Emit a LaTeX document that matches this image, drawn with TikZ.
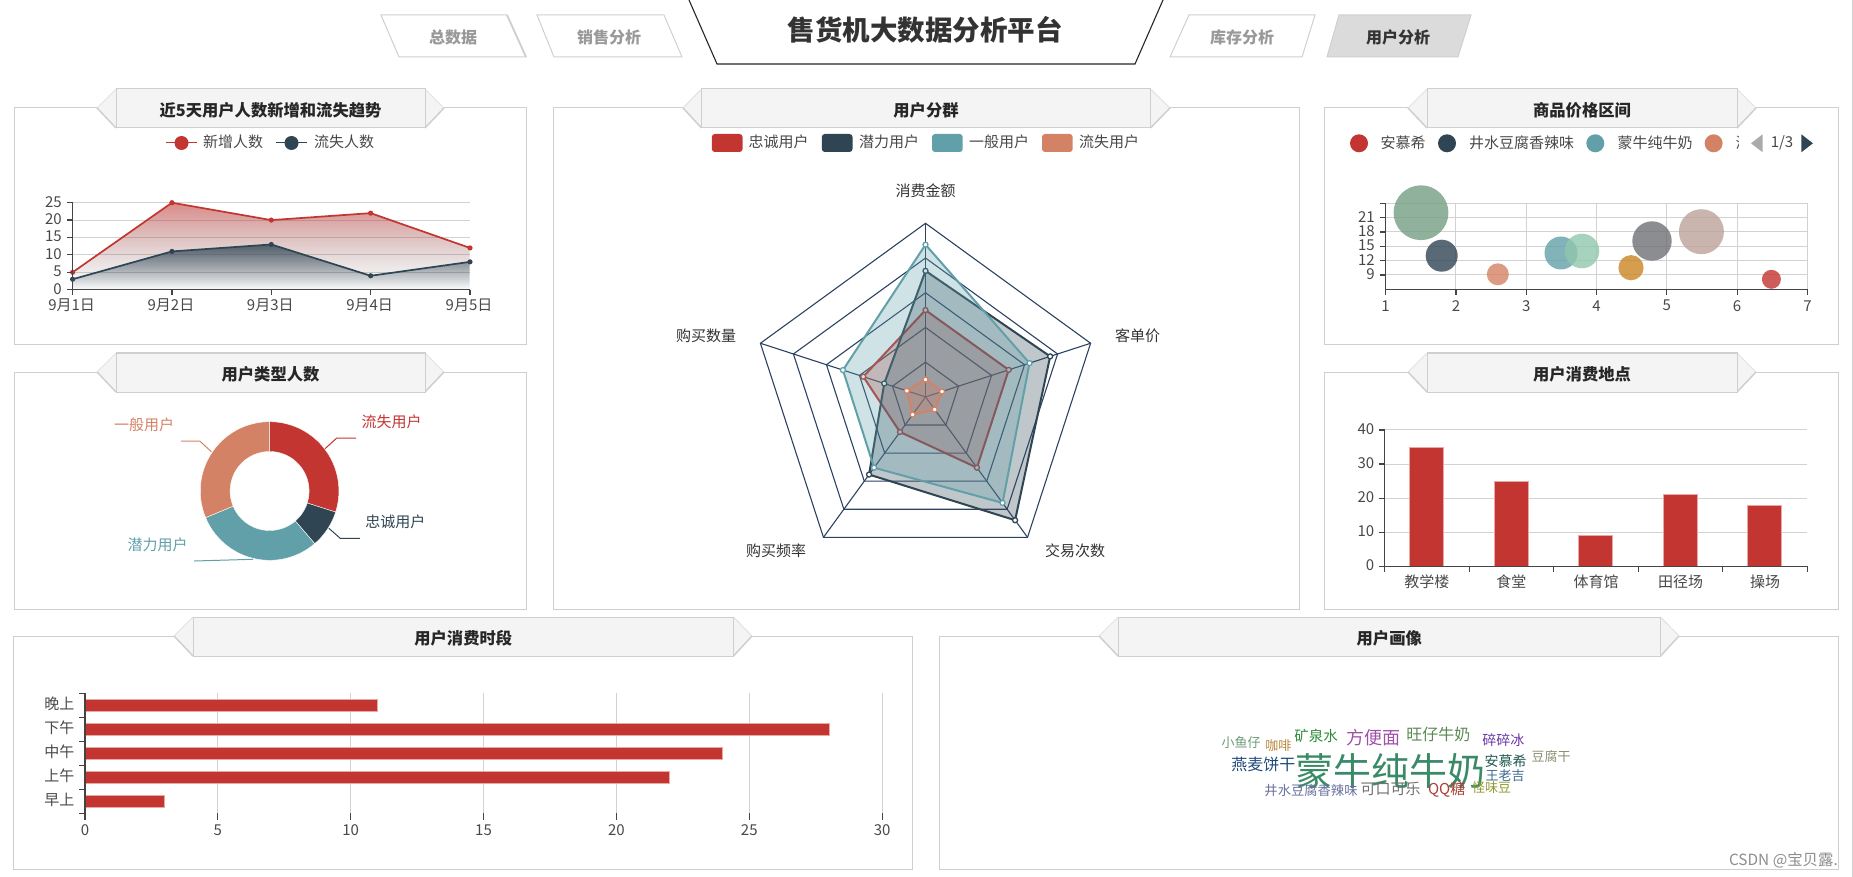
\documentclass[tikz,border=0pt]{standalone}
\usepackage{fontspec}
\setmainfont{Noto Sans CJK SC}
\usetikzlibrary{calc, fadings}
\definecolor{cred}{HTML}{C23531}
\definecolor{cdark}{HTML}{2F4554}
\definecolor{cteal}{HTML}{61A0A8}
\definecolor{corange}{HTML}{D48265}
\definecolor{cgreen}{HTML}{749F83}
\definecolor{cmint}{HTML}{91C7AE}
\definecolor{cgold}{HTML}{CA8622}
\definecolor{cgrey}{HTML}{6E7074}
\definecolor{cbrown}{HTML}{BDA29A}
\definecolor{edge}{HTML}{CFCFCF}
\definecolor{headfill}{HTML}{F4F4F4}
\definecolor{gridc}{HTML}{D2D2D2}
\definecolor{axisc}{HTML}{444444}
\definecolor{txtc}{HTML}{484848}
\definecolor{barline}{HTML}{E8A8A6}
\definecolor{radarc}{HTML}{2C4263}
\tikzset{
    panel/.style={draw=edge, line width=1},
    headbox/.style={draw=edge, fill=headfill, line width=1},
    tabbox/.style={draw=edge, line width=1},
    gridline/.style={draw=gridc, line width=1},
    axisline/.style={draw=axisc, line width=1.2},
    lbl/.style={font=\fontsize{15}{18}\selectfont, text=txtc, inner sep=0pt},
    headlbl/.style={font=\fontsize{16.3}{18}\selectfont\bfseries, text=black!85, inner sep=0pt},
    tablbl/.style={font=\fontsize{16}{18}\selectfont\bfseries, inner sep=0pt},
    barfill/.style={fill=cred, draw=barline, line width=0.8},
    cloud/.style={inner sep=0pt, font=\fontsize{#1}{#1}\selectfont},
}
\begin{document}
\begin{tikzpicture}[x=1pt, y=-1pt]
    \useasboundingbox (0,0) rectangle (1853,877);
    \draw[edge, line width=1] (1852,0) -- (1852,877);

    \foreach \a/\b/\c/\d/\tx/\col/\lab/\nm in {
        381/507/526/399/453/black!40/总数据/tabsum,
        537/664/682/554/609/black!40/销售分析/tabsale,
        1189/1315/1302/1170/1242/black!40/库存分析/tabstock}{
        \draw[tabbox] (\a,15) -- (\b,15) -- (\c,57) -- (\d,57) -- cycle;
        \node[tablbl, text=\col] (\nm) at (\tx,37) {\lab};
    }
    \draw[tabbox, line width=1.8] (507,15) -- (526,57);
    \draw[tabbox, fill=black!14] (1339,15) -- (1471,15) -- (1458,57) -- (1327,57) -- cycle;
    \node[tablbl, text=black!80] (tabuser) at (1398,37) {用户分析};

    \draw[black!85, line width=1.1] (689,0) -- (717,64) -- (1135,64) -- (1163,0);
    \node[inner sep=0pt, text=black!80, font=\fontsize{27.5}{30}\selectfont\bfseries] (maintitle) at (925,30) {售货机大数据分析平台};

    \foreach \pl/\pr/\pty/\pby/\hl/\hr/\tl/\tr/\ttl/\nm in {
        14/526/108/345/116/425/97/444/近5天用户人数新增和流失趋势/headtrend,
        14/526/372/609/116/425/97/444/用户类型人数/headtype,
        553.5/1299/108/609/701.5/1150.5/683/1170/用户分群/headgroup,
        1324.5/1838.5/108/345/1427/1737/1408/1756/商品价格区间/headprice,
        1324.5/1838.5/372/609/1427/1737/1408/1756/用户消费地点/headplace,
        13.5/912/636/869/193/733.5/174/752/用户消费时段/headtime,
        939.5/1838.5/636/869/1118/1660.5/1099/1679/用户画像/headcloud}{
        \draw[panel] (\tl,\pty) -- (\pl,\pty) -- (\pl,\pby) -- (\pr,\pby) -- (\pr,\pty) -- (\tr,\pty);
        \fill[headfill] (\hl,{\pty-19}) -- (\tl,\pty) -- (\hl,{\pty+20}) -- cycle;
        \fill[headfill] (\hr,{\pty-19}) -- (\tr,\pty) -- (\hr,{\pty+20}) -- cycle;
        \draw[edge!60, line width=1] (\hl,{\pty-19}) -- (\tl,\pty);
        \draw[edge!60, line width=1] (\hr,{\pty-19}) -- (\tr,\pty);
        \draw[edge, line width=1.5] (\tl,\pty) -- (\hl,{\pty+20});
        \draw[edge, line width=1.5] (\tr,\pty) -- (\hr,{\pty+20});
        \draw[headbox] (\hl,{\pty-19}) rectangle (\hr,{\pty+20});
        \node[headlbl] (\nm) at ({(\hl+\hr)/2},{\pty+2}) {\ttl};
    }

    \coordinate (trendA) at (166,143);
    \coordinate (trendB) at (197,143);
    \coordinate (trendC) at (276,143);
    \coordinate (trendD) at (307,143);
    \draw[cred, line width=1] (trendA) -- (trendB);
    \fill[cred] ($(trendA)!0.5!(trendB)$) circle (7);
    \node[lbl] (trendnew) at (233,142) {新增人数};
    \draw[cdark, line width=1] (trendC) -- (trendD);
    \fill[cdark] ($(trendC)!0.5!(trendD)$) circle (7);
    \node[lbl] (trendlost) at (344,142) {流失人数};

    \foreach \v in {5,10,...,25}
        \draw[gridline] (72.6,{289.7-3.48*\v}) -- (470,{289.7-3.48*\v});
    \foreach \i/\a/\b/\lab in {0/5/3/9月1日,1/25/11/9月2日,2/20/13/9月3日,3/22/4/9月4日,4/12/8/9月5日}{
        \coordinate (new\i) at ({72.6+99.35*\i},{289.7-3.48*\a});
        \coordinate (lost\i) at ({72.6+99.35*\i},{289.7-3.48*\b});
        \draw[axisline] ({72.6+99.35*\i},289.7) -- ({72.6+99.35*\i},295);
        \node[lbl] (day\i) at ({71.6+99.35*\i},305) {\lab};
    }
    \coordinate (trendO) at (72.6,289.7);
    \coordinate (trendE) at (470,289.7);
    \shade[top color=cred, bottom color=black!55, opacity=0.58, path fading=south] (new0) -- (new1) -- (new2) -- (new3) -- (new4) -- (trendE) -- (trendO) -- cycle;
    \fill[cdark, fill opacity=0.8, path fading=south] (lost0) -- (lost1) -- (lost2) -- (lost3) -- (lost4) -- (trendE) -- (trendO) -- cycle;
    \draw[cred, line width=1.7] (new0) -- (new1) -- (new2) -- (new3) -- (new4);
    \draw[cdark, line width=1.7] (lost0) -- (lost1) -- (lost2) -- (lost3) -- (lost4);
    \foreach \i in {0,...,4}{
        \fill[cred] (new\i) circle (2.6);
        \fill[cdark] (lost\i) circle (2.6);
    }
    \draw[axisline] (72.6,202.7) -- (72.6,295);
    \draw[axisline] (72.6,289.7) -- (470,289.7);
    \foreach \v in {0,5,...,25}{
        \draw[axisline] (67,{289.7-3.48*\v}) -- (72.6,{289.7-3.48*\v});
        \node[lbl, anchor=east] (trendy\v) at (62,{288.7-3.48*\v}) {\v};
    }

    \foreach \a/\b/\col in {90/-17.7/cred,-17.7/-49.4/cdark,-49.4/-157.4/cteal,-157.4/-270/corange}
        \fill[\col, draw=white, line width=0.4] plot[domain=\a:\b, samples=40] ({269.6+69.3*cos(\x)},{491-69.3*sin(\x)}) -- plot[domain=\b:\a, samples=40] ({269.6+39.5*cos(\x)},{491-39.5*sin(\x)}) -- cycle;
    \draw[cred, line width=1] (325,448.7) -- (336.8,438) -- (356,438);
    \node[lbl, text=cred] (donutlost) at (391.5,421.7) {流失用户};
    \draw[cdark, line width=1] (328.9,528.3) -- (340.2,538.3) -- (359.8,538.3);
    \node[lbl, text=cdark] (donutloyal) at (395.3,522.3) {忠诚用户};
    \draw[cteal, line width=1] (253,559.3) -- (194.2,561);
    \node[lbl, text=cteal] (donutpot) at (157.7,544.7) {潜力用户};
    \draw[corange, line width=1] (211.4,451.7) -- (199.7,441) -- (181.1,441);
    \node[lbl, text=corange] (donutnorm) at (144,424.7) {一般用户};

    \foreach \xa/\xt/\col/\lab/\nm in {711.8/778.7/cred/忠诚用户/keyloyal,821.8/889/cdark/潜力用户/keypot,932/999/cteal/一般用户/keynorm,1042/1109/corange/流失用户/keylost}{
        \fill[\col, rounded corners=3] (\xa,134) rectangle ({\xa+30.7},152);
        \node[lbl] (\nm) at (\xt,142) {\lab};
    }

    \coordinate (rc) at (925.5,396.9);
    \foreach \k in {1,...,5}{
        \foreach \i/\ang in {0/90,1/18,2/-54,3/-126,4/162}
            \coordinate (ring\k\i) at ({925.5+34.72*\k*cos(\ang)},{396.9-34.72*\k*sin(\ang)});
        \draw[radarc, line width=1.1] (ring\k0) -- (ring\k1) -- (ring\k2) -- (ring\k3) -- (ring\k4) -- cycle;
    }
    \foreach \i in {0,...,4}
        \draw[radarc, line width=1.1] (rc) -- (ring5\i);
    \foreach \nm/\col/\a/\b/\c/\d/\e in {
        loyal/cred/0.5/0.504/0.504/0.25/0.377,
        pot/cdark/0.726/0.755/0.878/0.553/0.25,
        norm/cteal/0.877/0.63/0.755/0.504/0.5,
        lost/corange/0.1/0.1/0.09/0.126/0.113}{
        \foreach \i/\ang/\v in {0/90/\a,1/18/\b,2/-54/\c,3/-126/\d,4/162/\e}
            \coordinate (\nm\i) at ({925.5+173.6*\v*cos(\ang)},{396.9-173.6*\v*sin(\ang)});
        \draw[\col, line width=2, fill=\col, fill opacity=0.3] (\nm0) -- (\nm1) -- (\nm2) -- (\nm3) -- (\nm4) -- cycle;
        \foreach \i in {0,...,4}
            \draw[\col, fill=white, line width=1.3] (\nm\i) circle (2.5);
    }
    \node[lbl, text=black!80] (axmoney) at (925.7,191) {消费金额};
    \node[lbl, text=black!80] (axprice) at (1137.5,335.5) {客单价};
    \node[lbl, text=black!80] (axtrade) at (1075,551) {交易次数};
    \node[lbl, text=black!80] (axfreq) at (776,551) {购买频率};
    \node[lbl, text=black!80] (axqty) at (706,335.5) {购买数量};

    \foreach \cx/\col/\tx/\lab/\nm in {1359/cred/1403/安慕希/keyan,1447/cdark/1521.6/井水豆腐香辣味/keyjing,1595.3/cteal/1655/蒙牛纯牛奶/keymeng}{
        \fill[\col] (\cx,143.3) circle (9);
        \node[lbl] (\nm) at (\tx,143) {\lab};
    }
    \fill[corange] (1713.6,143.3) circle (9);
    \begin{scope}
        \clip (1733,130) rectangle (1738.6,156);
        \node[lbl, anchor=west] (keymore) at (1735.4,143) {海};
    \end{scope}
    \coordinate (pagL) at (1751,143.3);
    \coordinate (pagR) at (1812.9,143.3);
    \fill[black!33] (pagL) -- (1762.6,134.3) -- (1762.6,152.3) -- cycle;
    \fill[cdark] (pagR) -- (1801.3,134.3) -- (1801.3,152.3) -- cycle;
    \node[lbl] (pagtext) at (1782,143) {1/3};

    \foreach \v in {9,12,...,24}
        \draw[gridline] (1385.6,{289.3-4.78*(\v-6)}) -- (1807.4,{289.3-4.78*(\v-6)});
    \foreach \v in {1,...,7}{
        \draw[gridline] ({1385.6+70.3*(\v-1)},203.3) -- ({1385.6+70.3*(\v-1)},289.3);
        \draw[axisline] ({1385.6+70.3*(\v-1)},289.3) -- ({1385.6+70.3*(\v-1)},295);
        \node[lbl] (pricex\v) at ({1385.6+70.3*(\v-1)},305.7) {\v};
    }
    \draw[axisline] (1385.6,203.3) -- (1385.6,295);
    \draw[axisline] (1385.6,289.3) -- (1807.4,289.3);
    \foreach \v in {9,12,...,24}
        \draw[axisline] (1380,{289.3-4.78*(\v-6)}) -- (1385.6,{289.3-4.78*(\v-6)});
    \foreach \v in {9,12,...,21}
        \node[lbl, anchor=east] (pricey\v) at (1375,{288.3-4.78*(\v-6)}) {\v};
    \foreach \cx/\cy/\r/\col in {1421/212.7/27.4/cgreen,1441.7/255.7/16/cdark,1497.8/274.3/11/corange,1561/253/16.5/cteal,1582/251/17.3/cmint,1631/267.7/12.6/cgold,1652/241/19.7/cgrey,1701.4/231.7/22.5/cbrown,1771.4/279.3/9.5/cred}
        \fill[\col, fill opacity=0.8] (\cx,\cy) circle (\r);

    \foreach \v in {10,20,30,40}
        \draw[gridline] (1384.6,{566.3-3.41*\v}) -- (1807.4,{566.3-3.41*\v});
    \foreach \i/\v/\lab in {0/35/教学楼,1/25/食堂,2/9/体育馆,3/21/田径场,4/18/操场}{
        \draw[barfill] ({1409.5+84.55*\i},566.3) rectangle ({1443.5+84.55*\i},{566.3-3.41*\v});
        \node[lbl] (place\i) at ({1426.9+84.55*\i},581.5) {\lab};
    }
    \draw[axisline] (1384.6,430) -- (1384.6,572);
    \draw[axisline] (1384.6,566.3) -- (1807.4,566.3);
    \foreach \i in {0,...,5}
        \draw[axisline] ({1384.6+84.55*\i},566.3) -- ({1384.6+84.55*\i},572);
    \foreach \v in {0,10,...,40}{
        \draw[axisline] (1378.5,{566.3-3.41*\v}) -- (1384.6,{566.3-3.41*\v});
        \node[lbl, anchor=east] (placey\v) at (1374.4,{565.3-3.41*\v}) {\v};
    }

    \foreach \v in {0,5,...,30}{
        \ifnum\v>0 \draw[gridline] ({85+26.57*\v},693.3) -- ({85+26.57*\v},813.3); \fi
        \draw[axisline] ({85+26.57*\v},813.3) -- ({85+26.57*\v},820);
        \node[lbl] (timex\v) at ({85+26.57*\v},830) {\v};
    }
    \foreach \i/\v/\lab in {0/11/晚上,1/28/下午,2/24/中午,3/22/上午,4/3/早上}{
        \draw[barfill] (85,{699.3+24*\i}) rectangle ({85+26.57*\v},{711.7+24*\i});
        \node[lbl, anchor=east] (slot\i) at (74.6,{703.5+24*\i}) {\lab};
    }
    \draw[axisline] (85,693.3) -- (85,820);
    \foreach \i in {0,...,5}
        \draw[axisline] (79,{693.3+24*\i}) -- (85,{693.3+24*\i});

    \foreach \cx/\cy/\fs/\hexc/\lab/\nm in {
        1241/742.3/13/6B9A78/小鱼仔/wfish,
        1278.3/746/13/B8853A/咖啡/wcoffee,
        1316/736/14.5/2E8B3A/矿泉水/wwater,
        1373.3/737.3/18/A050A8/方便面/wnoodle,
        1438.3/734.3/16/5A8A50/旺仔牛奶/wwang,
        1503.3/740/14/6A35A8/碎碎冰/wice,
        1551/756.7/13/8A9070/豆腐干/wtofu,
        1505.7/761/14/1F5A50/安慕希/wan,
        1505/775.3/13/3A6A90/王老吉/wji,
        1263.3/764.3/16/1F4A78/燕麦饼干/woat,
        1390.7/770.7/38/3A8A68/蒙牛纯牛奶/wmeng,
        1311/790/13.3/6A70A0/井水豆腐香辣味/wjing,
        1390.7/789/15/707070/可口可乐/wcola,
        1446.7/790/15/A84038/QQ糖/wqq,
        1491.7/787.7/13/909A30/怪味豆/wbean}{
        \definecolor{wc}{HTML}{\hexc}
        \node[cloud=\fs, text=wc] (\nm) at (\cx,\cy) {\lab};
    }

    \node[inner sep=0pt, anchor=east, text=black!45, font=\fontsize{15.4}{16}\selectfont] (mark) at (1838,860) {CSDN @宝贝露.};
\end{tikzpicture}
\end{document}
